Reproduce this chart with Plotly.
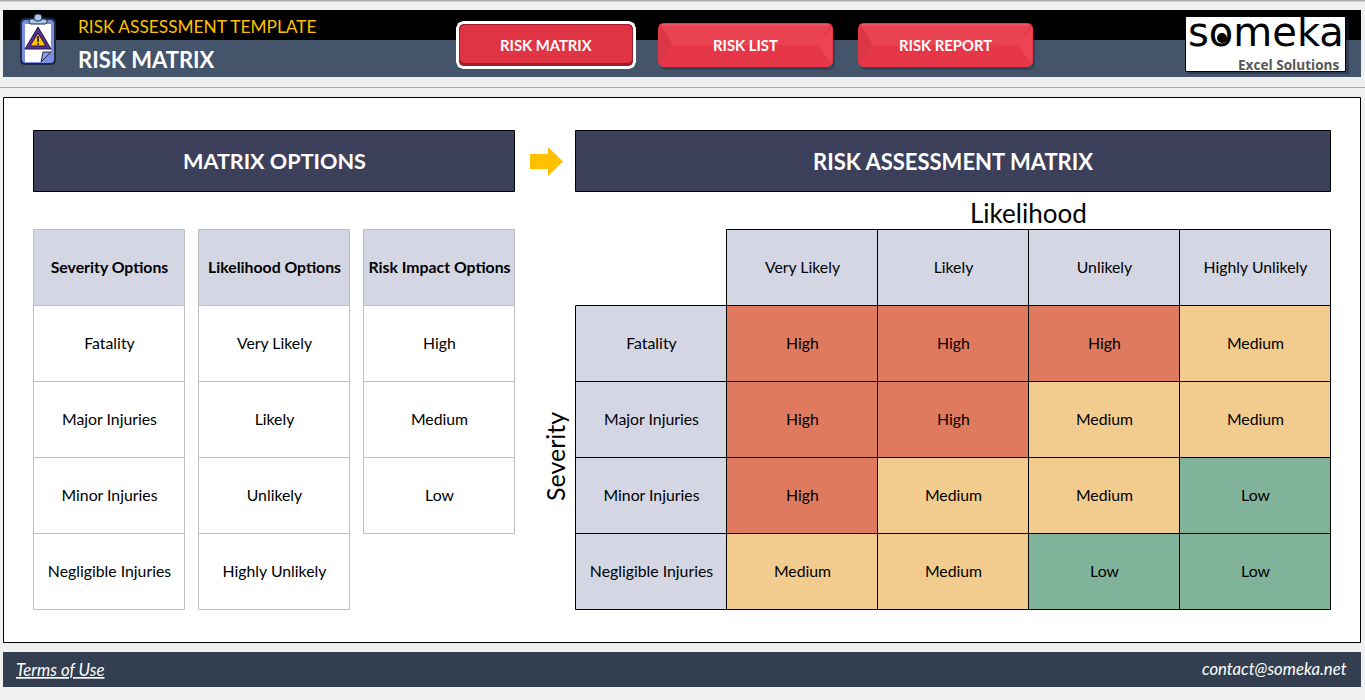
import plotly.graph_objects as go

W, H = 1365, 700
FONT = "Lato"

# ---- data ----
severity = ["Fatality", "Major Injuries", "Minor Injuries", "Negligible Injuries"]
likelihood = ["Very Likely", "Likely", "Unlikely", "Highly Unlikely"]
impact = ["High", "Medium", "Low"]
risk_rows = [
    ["High", "High", "High", "Medium"],
    ["High", "High", "Medium", "Medium"],
    ["High", "Medium", "Medium", "Low"],
    ["Medium", "Medium", "Low", "Low"],
]
option_titles = ["Severity Options", "Likelihood Options", "Risk Impact Options"]
buttons = ["RISK MATRIX", "RISK LIST", "RISK REPORT"]

# ---- palette ----
HEAD = "#D4D6E3"; WHITE = "#FFFFFF"; NAVY = "#3D405B"; SLATE = "#44546A"; FOOT = "#333F50"
LEVEL = {"head": 0, "white": 1, "High": 2, "Medium": 3, "Low": 4}
COLORS = [HEAD, WHITE, "#E07A5F", "#F2CC8F", "#81B29A"]
cs = []
for i, c in enumerate(COLORS):
    cs += [[i / 5, c], [(i + 1) / 5, c]]

fig = go.Figure()
shapes, notes = [], []


def px(x): return x / W
def py(y): return 1 - y / H


def rect(x0, y0, x1, y1, fill, line=None, lw=1, layer="below", op=1):
    shapes.append(dict(type="rect", xref="paper", yref="paper", x0=px(x0), x1=px(x1), y0=py(y0), y1=py(y1),
                       fillcolor=fill, opacity=op, layer=layer,
                       line=dict(color=line or "rgba(0,0,0,0)", width=lw if line else 0)))


def path(pts, fill, layer="above", line=None, lw=1, op=1):
    d = "M " + " L ".join(f"{px(a):.5f},{py(b):.5f}" for a, b in pts) + " Z"
    shapes.append(dict(type="path", xref="paper", yref="paper", path=d, fillcolor=fill, layer=layer, opacity=op,
                       line=dict(color=line or "rgba(0,0,0,0)", width=lw if line else 0)))


def rrect(x0, y0, x1, y1, r, fill, layer="above", line=None, lw=1, op=1):
    k = r * 0.3
    pts = [(x0 + r, y0), (x1 - r, y0), (x1 - k, y0 + k), (x1, y0 + r), (x1, y1 - r), (x1 - k, y1 - k), (x1 - r, y1),
           (x0 + r, y1), (x0 + k, y1 - k), (x0, y1 - r), (x0, y0 + r), (x0 + k, y0 + k)]
    path(pts, fill, layer, line, lw, op)


def text(x, y, s, size, color="#000000", bold=False, anchor="center", family=FONT, angle=0, italic=False):
    if bold: s = f"<b>{s}</b>"
    if italic: s = f"<i>{s}</i>"
    notes.append(dict(xref="paper", yref="paper", x=px(x), y=py(y), text=s, showarrow=False, xanchor=anchor,
                      yanchor="middle", textangle=angle, font=dict(family=family, size=size, color=color),
                      borderpad=0, borderwidth=0))


def grid(idx, x0, y0, x1, y1, codes, labels, line, font_size=15.8):
    """one table of cells: a heatmap on its own numeric axes placed by domain"""
    nr, nc = len(codes), len(codes[0])
    xa, ya = ("xaxis", "yaxis") if idx == 1 else (f"xaxis{idx}", f"yaxis{idx}")
    xr, yr = ("x", "y") if idx == 1 else (f"x{idx}", f"y{idx}")
    fig.add_trace(go.Heatmap(z=codes, text=labels, texttemplate="%{text}", x=list(range(nc)), y=list(range(nr)),
                             xaxis=xr, yaxis=yr, zmin=0, zmax=5, colorscale=cs, showscale=False, hoverinfo="skip",
                             textfont=dict(family=FONT, size=font_size, color="#000000")))
    fig.update_layout({
        xa: dict(domain=[px(x0), px(x1)], range=[-0.5, nc - 0.5], visible=False, anchor=yr, fixedrange=True),
        ya: dict(domain=[py(y1), py(y0)], range=[nr - 0.5, -0.5], visible=False, anchor=xr, fixedrange=True),
    })
    # grid lines in paper space so the outer edges are not clipped by the subplot
    cw, ch = (x1 - x0) / nc, (y1 - y0) / nr
    for r in range(nr):
        for c in range(nc):
            if codes[r][c] is None:
                continue
            rect(x0 + c * cw, y0 + r * ch, x0 + (c + 1) * cw, y0 + (r + 1) * ch, "rgba(0,0,0,0)", line, 1, layer="above")


# ---- page frame ----
rect(0, 0, W, H, "#F0F0F0")
rect(0, 0, W, 1.5, "#ABABAB")
rect(3, 10, 1361, 40, "#000000")
rect(3, 40, 1361, 77, SLATE)
rect(0, 87, W, 88, "#ABABAB")
rect(3.5, 97.5, 1360.5, 642.5, WHITE, "#000000", 1)
rect(3, 652, 1361, 687, FOOT)

# ---- title texts ----
text(78, 26.5, "RISK ASSESSMENT TEMPLATE", 17.3, "#FFC000", anchor="left")
text(78, 59.5, "RISK MATRIX", 22, "#FFFFFF", bold=True, anchor="left")

# ---- clipboard icon ----
rrect(20, 18, 56, 65, 4, "#1F2A44")
rrect(22, 20, 54, 63, 3, "#7C8FE0")
path([(25, 24), (51, 24), (51, 52), (41, 62), (25, 62)], "#FFFFFF")
path([(51, 52), (41, 62), (43, 52)], "#8F9BE8", line="#1F2A44", lw=1)
rrect(29, 19, 47, 24, 2, "#A9C6E8", line="#1F2A44")
rrect(34, 14, 42, 21, 3, "#A9C6E8", line="#1F2A44")
path([(38, 27), (51, 49), (25, 49)], "#5B2DA0", line="#16163A", lw=1)
path([(38, 33), (46, 46), (30, 46)], "#FFC000", line="#16163A", lw=1)
rect(37.2, 36, 38.8, 42, "#16163A", layer="above")
rect(37.2, 43, 38.8, 45, "#16163A", layer="above")

# ---- nav buttons ----
rrect(456, 21, 636, 69, 7, "#FFFFFF")
rrect(459, 24, 633, 66, 4, "#9E1F2B")
rrect(460, 25, 632, 63, 4, "#E03444")
text(546, 45.5, buttons[0], 14.8, "#FFFFFF", bold=True)
for b, (x0, x1) in zip(buttons[1:], [(658, 833), (858, 1033)]):
    rrect(x0 + 2, 27, x1 + 2, 70, 5, "#1B2433", op=0.35)
    rrect(x0, 23, x1, 67, 5, "#E53748")
    path([(x0 + 2, 24), (x1 - 2, 24), (x1 - 15, 45), (x0 + 15, 45)], "#E94250")
    path([(x0 + 1, 26), (x0 + 15, 45), (x0 + 1, 64)], "#D93646")
    path([(x1 - 1, 26), (x1 - 15, 45), (x1 - 1, 64)], "#EC4453")
    rect(x0 + 4, 24, x1 - 4, 26, "#EC5662", layer="above")
    text((x0 + x1) / 2, 45.5, b, 14.8, "#FFFFFF", bold=True)

# ---- logo ----
rect(1188, 19, 1349, 74, "#1B2433", op=0.45)
rect(1185.5, 16.5, 1345.5, 71.5, "#FFFFFF", "#000000", 1)
text(1266, 32, "someka", 40, "#000000", family="DejaVu Sans")
shapes.append(dict(type="circle", xref="paper", yref="paper", x0=px(1217), x1=px(1227), y0=py(33), y1=py(43),
                   fillcolor="#000000", line=dict(width=0), layer="above"))
text(1289, 64.5, "Excel Solutions", 13.6, "#595959", bold=True, family="Open Sans")

# ---- section banners ----
rect(33.5, 130.5, 514.5, 191.5, NAVY, "#000000", 1)
rect(575.5, 130.5, 1330.5, 191.5, NAVY, "#000000", 1)
text(274.5, 161.5, "MATRIX OPTIONS", 21.6, "#FFFFFF", bold=True)
text(953, 161.5, "RISK ASSESSMENT MATRIX", 22, "#FFFFFF", bold=True)
path([(530, 154), (548, 154), (548, 147), (563, 161.5), (548, 176), (548, 169), (530, 169)], "#FFC000")

# ---- option lists ----
lists = [severity, likelihood, impact]
spans = [(33, 185), (198, 350), (363, 515)]
for i, (title, items, (x0, x1)) in enumerate(zip(option_titles, lists, spans)):
    codes = [[LEVEL["head"]]] + [[LEVEL["white"]] for _ in items]
    labels = [[f"<b>{title}</b>"]] + [[it] for it in items]
    grid(i + 1, x0 + .5, 229.5, x1 - .5, 229.5 + 76 * (len(items) + 1), codes, labels, "#BFBFBF")

# ---- risk matrix ----
codes = [[None] + [LEVEL["head"]] * len(likelihood)]
labels = [[""] + likelihood]
for s, row in zip(severity, risk_rows):
    codes.append([LEVEL["head"]] + [LEVEL[v] for v in row])
    labels.append([s] + row)
grid(4, 575.5, 229.5, 1330.5, 609.5, codes, labels, "#000000")

text(1028, 212.5, "Likelihood", 26)
text(555, 457, "Severity", 25, angle=-90)

# ---- footer ----
text(16, 669, "<u>Terms of Use</u>", 16.8, "#FFFFFF", anchor="left", italic=True)
text(1347, 669, "contact@someka.net", 16.7, "#FFFFFF", anchor="right", italic=True)

fig.update_layout(width=W, height=H, margin=dict(l=0, r=0, t=0, b=0, pad=0), showlegend=False,
                  paper_bgcolor="#F0F0F0", plot_bgcolor="rgba(0,0,0,0)", shapes=shapes, annotations=notes,
                  font=dict(family=FONT))
fig.write_html("out.html", config=dict(displayModeBar=False, responsive=False),
               post_script="document.body.style.margin='0';document.documentElement.style.overflow='hidden';")
